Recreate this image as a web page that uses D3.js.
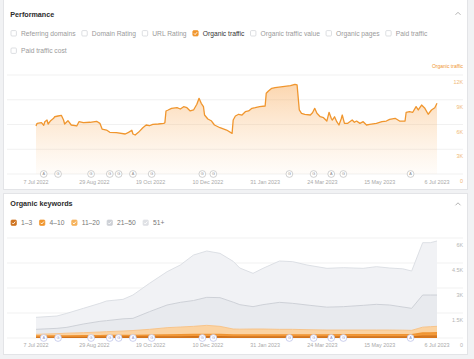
<!DOCTYPE html>
<html><head><meta charset="utf-8">
<script src="https://cdn.jsdelivr.net/npm/d3@7"></script>
<style>
html,body{margin:0;padding:0;background:#f1f2f4;}
svg{display:block;font-family:"Liberation Sans",Arial,sans-serif;}
</style></head><body>
<svg id="c" width="474" height="359"></svg>
<script>
// ---------- DATA ----------
const metricOptions = ["Referring domains","Domain Rating","URL Rating","Organic traffic","Organic traffic value","Organic pages","Paid traffic","Paid traffic cost"];
const metricChecked = ["Organic traffic"];
const startDate = "2022-07-07";
const xTickLabels = ["7 Jul 2022","29 Aug 2022","19 Oct 2022","10 Dec 2022","31 Jan 2023","24 Mar 2023","15 May 2023","6 Jul 2023"];

const trafficDays = [0,1,5,7,8,10,11,13,16,17,20,23,25,26,29,32,37,39,43,49,55,58,60,64,67,73,81,84,87,88,90,93,97,100,103,106,111,116,117,118,120,123,128,131,134,137,140,143,146,148,150,152,153,156,159,162,167,173,178,179,181,184,187,190,193,196,199,203,208,209,211,214,217,224,231,235,237,239,241,244,249,251,253,255,258,261,264,266,268,269,271,273,275,277,278,280,283,287,289,291,294,297,300,303,309,314,318,321,326,330,335,336,339,342,345,347,350,353,356,359,362,364];
const trafficValues = [5820,6140,6220,5900,6340,6540,6060,6420,6750,6940,7030,7110,6540,6060,6460,5940,5820,6340,6220,6270,6390,6140,5450,5330,5050,5010,4850,5050,5300,4850,4730,5050,5610,5940,5850,6020,6060,6140,6220,7640,7760,7960,8040,7880,8160,8040,7640,7760,8450,9170,8570,8160,7150,6670,6460,5940,5610,5330,4930,6540,7030,7240,7150,7550,7640,7960,8040,8160,8240,9780,10060,10390,10460,10580,10700,10870,10790,7760,7360,7240,7150,7430,7960,7360,6940,6820,6420,7480,6750,6540,6940,6340,5940,6670,7150,6140,6140,6540,6270,6420,6140,6340,5940,6020,6140,6340,6420,6630,6750,6420,6420,7480,7550,7480,8160,7760,8360,7960,7240,7760,8040,8570];
const trafficTicks = [0,3000,6000,9000,12000];
const trafficTickLabels = ["0","3K","6K","9K","12K"];

const eventDays = [7,20,50,67,75,88,105,151,161,230,252,268,279,340];
const eventLetters = ["A","G","G","G","G","A","G","G","G","G","G","A","G","A"];

const kwSeries = ["1–3","4–10","11–20","21–50","51+"];
const kwDays = [0,19,28,43,58,64,79,88,103,119,131,143,155,167,179,185,197,206,221,233,246,264,279,297,309,321,333,341,351,358,364];
const kw1to3 = [50,50,55,55,60,60,60,65,65,70,70,75,75,75,70,70,70,70,70,70,70,70,70,70,70,70,70,70,110,110,110];
const kw4to10 = [70,75,75,80,85,90,95,95,110,120,130,135,145,140,120,115,115,120,120,120,120,120,125,125,130,130,130,130,190,200,210];
const kw11to20 = [100,135,160,185,215,230,265,290,345,430,460,490,540,485,350,345,355,350,330,330,310,290,285,285,280,280,270,260,350,370,380];
const kw21to50 = [300,320,350,520,640,660,730,730,1060,1360,1480,1550,1680,1720,1610,1470,1340,1460,1620,1560,1480,1370,1400,1480,1540,1500,1390,1320,1930,1900,1880];
const kw51plus = [720,740,840,940,1080,1180,1170,1400,1700,2000,2240,2730,2780,2660,2450,2200,2000,2180,2480,2500,2400,2330,2340,2220,2260,2220,2290,2240,3140,3140,3240];
const kwTicks = [0,1500,3000,4500,6000];
const kwTickLabels = ["0","1.5K","3K","4.5K","6K"];

// ---------- STYLE ----------
const ORANGE = "#f0962e";
const kwFill = ["#d9781c","#f29a3a","#fbd3a2","#e8eaee","#f1f2f5"];
const kwStroke = ["#d0701a","#ef9432","#f6c184","#c9cdd4","#d9dce2"];
const kwBox = ["#cf7420","#f0962e","#f6b35c","#cdd0d6","#dfe1e5"];

const svg = d3.select("#c");
const t0 = d3.timeParse("%Y-%m-%d")(startDate);
const day = d => d3.timeDay.offset(t0, d);
const parseTick = d3.timeParse("%-d %b %Y");

// panels
svg.append("rect").attr("x",3.5).attr("y",-3).attr("width",464).attr("height",192.5)
  .attr("fill","#fff").attr("stroke","#e3e4e7");
svg.append("rect").attr("x",3.5).attr("y",193.5).attr("width",464).attr("height",161)
  .attr("fill","#fff").attr("stroke","#e3e4e7");

function chevron(y){
  svg.append("path").attr("d",`M455.5,${y+1.3}L458,${y-1.2}L460.5,${y+1.3}`)
    .attr("fill","none").attr("stroke","#a0a0a0").attr("stroke-width",0.8);
}
function checkbox(g,x,y,checked,color){
  g.append("rect").attr("x",x).attr("y",y-2.7).attr("width",5.4).attr("height",5.4).attr("rx",1)
    .attr("fill",checked?color:"#fff").attr("stroke",checked?color:"#cfd1d5").attr("stroke-width",0.7);
  if(checked) g.append("path").attr("d",`M${x+1.2},${y+0.1}L${x+2.3},${y+1.3}L${x+4.3},${y-1.1}`)
    .attr("fill","none").attr("stroke","#fff").attr("stroke-width",0.9);
}

// ---------- PERFORMANCE PANEL ----------
svg.append("text").attr("x",10.3).attr("y",16.5).attr("font-size",7.2).attr("font-weight","bold")
  .attr("fill","#2b2b2b").text("Performance");
chevron(13.5);

const optG = svg.append("g");
let ox = 11, oy = 33.3;
metricOptions.forEach(name=>{
  const checked = metricChecked.includes(name);
  const tmp = optG.append("text").attr("font-size",6.7).text(name);
  const w = tmp.node().getComputedTextLength(); tmp.remove();
  if (ox + 10 + w > 440) { ox = 11; oy += 17.4; }
  checkbox(optG, ox, oy, checked, ORANGE);
  optG.append("text").attr("x",ox+10).attr("y",oy+2.4).attr("font-size",6.7)
    .attr("fill",checked?"#333":"#9a9a9a").text(name);
  ox += 10 + w + 6.2;
});

svg.append("text").attr("x",463).attr("y",67.5).attr("text-anchor","end").attr("font-size",5)
  .attr("fill",ORANGE).text("Organic traffic");

const x = d3.scaleTime().domain([day(0), day(364)]).range([36, 437]);
const y1 = d3.scaleLinear().domain([0,12000]).range([174, 75]);

const gTop = svg.append("g");
gTop.selectAll("line.grid").data(trafficTicks).join("line")
  .attr("x1",7).attr("x2",463).attr("y1",d=>y1(d)).attr("y2",d=>y1(d))
  .attr("stroke","#eeeeee").attr("stroke-width",0.8);

const defs = svg.append("defs");
const grad = defs.append("linearGradient").attr("id","tg").attr("gradientUnits","userSpaceOnUse")
  .attr("x1",0).attr("x2",0).attr("y1",y1(11000)).attr("y2",y1(0));
grad.append("stop").attr("offset",0).attr("stop-color","#f7a24a").attr("stop-opacity",0.45);
grad.append("stop").attr("offset",1).attr("stop-color","#fbc68a").attr("stop-opacity",0.05);

const traffic = trafficDays.map((d,i)=>({t:day(d), v:trafficValues[i]}));
gTop.append("path").datum(traffic)
  .attr("d", d3.area().x(d=>x(d.t)).y0(y1(0)).y1(d=>y1(d.v)))
  .attr("fill","url(#tg)");
gTop.append("path").datum(traffic)
  .attr("d", d3.line().x(d=>x(d.t)).y(d=>y1(d.v)))
  .attr("fill","none").attr("stroke",ORANGE).attr("stroke-width",1.3).attr("stroke-linejoin","round");

gTop.selectAll("text.yt").data(trafficTicks).join("text")
  .attr("x",463).attr("y",d=>y1(d)+9).attr("text-anchor","end").attr("font-size",5.4)
  .attr("fill","#f0b878").text((d,i)=>trafficTickLabels[i]);
gTop.selectAll("text.xt").data(xTickLabels).join("text")
  .attr("x",d=>x(parseTick(d))).attr("y",183.6).attr("text-anchor","middle").attr("font-size",5.4)
  .attr("fill","#a9a9a9").text(d=>d);

function events(g, yb, stroke, txt){
  const ev = g.selectAll("g.ev").data(eventDays).join("g")
    .attr("transform",d=>`translate(${x(day(d))},${yb})`);
  ev.append("circle").attr("r",3.4).attr("fill","#fff").attr("stroke",stroke).attr("stroke-width",0.7);
  ev.append("text").attr("y",1.4).attr("text-anchor","middle").attr("font-size",3.8)
    .attr("fill",txt).text((d,i)=>eventLetters[i]);
}
events(gTop, 174, "#bdbdbd", "#8a8a8a");

// ---------- ORGANIC KEYWORDS PANEL ----------
svg.append("text").attr("x",10.3).attr("y",205.8).attr("font-size",7.2).attr("font-weight","bold")
  .attr("fill","#2b2b2b").text("Organic keywords");
chevron(204);

const legG = svg.append("g");
let lx = 11;
kwSeries.forEach((name,i)=>{
  checkbox(legG, lx, 222.7, true, kwBox[i]);
  const tx = legG.append("text").attr("x",lx+10).attr("y",225.1).attr("font-size",6.7)
    .attr("fill","#777").text(name);
  lx += 10 + tx.node().getComputedTextLength() + 7.3;
});

const y2 = d3.scaleLinear().domain([0,6000]).range([338, 238]);
const gBot = svg.append("g");
gBot.selectAll("line.grid").data(kwTicks).join("line")
  .attr("x1",7).attr("x2",463).attr("y1",d=>y2(d)).attr("y2",d=>y2(d))
  .attr("stroke","#eeeeee").attr("stroke-width",0.8);

const kwRows = kwDays.map((d,i)=>({t:day(d), "1–3":kw1to3[i], "4–10":kw4to10[i], "11–20":kw11to20[i], "21–50":kw21to50[i], "51+":kw51plus[i]}));
const stacked = d3.stack().keys(kwSeries)(kwRows);
const area2 = d3.area().x(d=>x(d.data.t)).y0(d=>y2(d[0])).y1(d=>y2(d[1]));
const line2 = d3.line().x(d=>x(d.data.t)).y(d=>y2(d[1]));
// draw from top layer down so fills sit properly
stacked.slice().reverse().forEach(s=>{
  const i = kwSeries.indexOf(s.key);
  gBot.append("path").datum(s).attr("d",area2).attr("fill",kwFill[i]);
});
stacked.forEach((s,i)=>{
  gBot.append("path").datum(s).attr("d",line2).attr("fill","none")
    .attr("stroke",kwStroke[i]).attr("stroke-width", i<2?1.4:0.9).attr("stroke-linejoin","round");
});

gBot.selectAll("text.yt").data(kwTicks).join("text")
  .attr("x",463).attr("y",d=>y2(d)+9).attr("text-anchor","end").attr("font-size",5.4)
  .attr("fill","#b3b3b3").text((d,i)=>kwTickLabels[i]);
gBot.selectAll("text.xt").data(xTickLabels).join("text")
  .attr("x",d=>x(parseTick(d))).attr("y",347).attr("text-anchor","middle").attr("font-size",5.4)
  .attr("fill","#a9a9a9").text(d=>d);
events(gBot, 338, "#b7bde6", "#8a92c8");
</script>
</body></html>
